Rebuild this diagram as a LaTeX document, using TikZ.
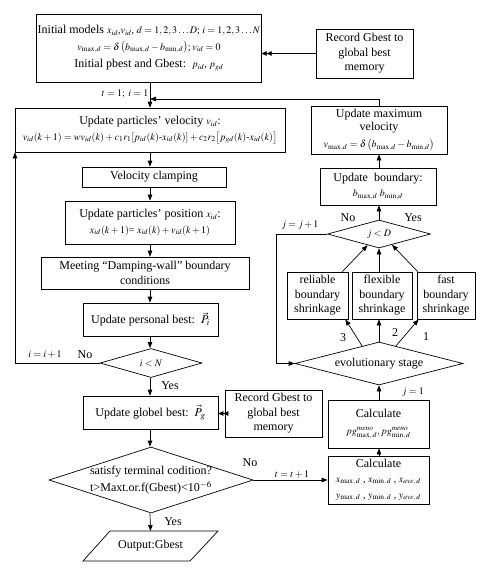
\documentclass[tikz,border=0pt]{standalone}
\usepackage{mathptmx}
\usepackage{fontspec}
\setmainfont{Liberation Serif}
\usetikzlibrary{arrows.meta,shapes.geometric,calc}
\newcommand\smf{\fontsize{10}{12}\selectfont}
\begin{document}
\begin{tikzpicture}[x=1pt,y=-1pt,line width=0.7pt,
  box/.style={draw,align=center,inner sep=1pt,font=\fontsize{12}{14.5}\selectfont},
  dia/.style={draw,diamond,inner sep=0pt},
  txt/.style={align=center,inner sep=0pt,font=\fontsize{12}{14.5}\selectfont},
  ar/.style={-{Triangle[length=6pt,width=4.5pt]}},
  dar/.style={-{Triangle[length=5pt,width=4.5pt]Triangle[length=5pt,width=4.5pt]}},
  lab/.style={font=\fontsize{12}{14}\selectfont,inner sep=0pt},
  slab/.style={font=\fontsize{10}{12}\selectfont,inner sep=0pt}]
\useasboundingbox (0,0) rectangle (491,571);
% left column
\node[box,minimum width=218,minimum height=68] (init) at (149,48)
 {Initial models {\smf $x_{id}$,$v_{id}$, $d=1,2,3\ldots D$;\ $i=1,2,3\ldots N$}\\[2pt]
  {\smf $v_{\max,d}=\delta\left(b_{\max,d}-b_{\min,d}\right)$;\,$v_{id}=0$}\\[3pt]
  Initial pbest and Gbest:\ \ {\smf $p_{id}$,\ $p_{gd}$}};
\node[box,minimum width=97,minimum height=49] (rec1) at (364.5,53.5) {Record Gbest to\\global best\\memory};
\node[box,minimum width=270,minimum height=44] (vel) at (150,130)
 {Update particles’ velocity {\smf $v_{id}$}:\\[1pt]
  {\smf $v_{id}(k+1)=wv_{id}(k)+c_1r_1\!\left[p_{id}(k)\mbox{-}x_{id}(k)\right]+c_2r_2\!\left[p_{gd}(k)\mbox{-}x_{id}(k)\right]$}};
\node[box,minimum width=144,minimum height=20] (clamp) at (154,177) {Velocity clamping};
\node[box,minimum width=170,minimum height=43] (pos) at (150,222.5)
 {Update particles’ position {\smf $x_{id}$}:\\[1pt]{\smf $x_{id}(k+1)$= $x_{id}(k)+v_{id}(k+1)$}};
\node[box,minimum width=208,minimum height=32] (damp) at (145,273) {Meeting ``Damping-wall'' boundary\\conditions};
\node[box,minimum width=135,minimum height=33] (pbest) at (150.5,319.5) {Update personal best:\ \ $\vec{P}_i$};
\node[dia,minimum width=102,minimum height=29] (iN) at (151,363) {};
\node[txt] (iNt) at (iN) {\smf $i<N$};
\node[box,minimum width=135,minimum height=33] (gbest) at (150.5,412.5) {Update globel best:\ \ $\vec{P}_g$};
\node[box,minimum width=97,minimum height=47] (rec2) at (273.5,413.5) {Record Gbest to\\global best\\memory};
\node[dia,minimum width=204,minimum height=66] (term) at (151,480) {};
\node[txt] (termt) at (term) {satisfy terminal codition?\\[3pt]t>Maxt.or.f(Gbest)<10$^{-6}$};
\node[txt] (out) at (150.5,546) {Output:Gbest};
\draw ($(out)+(-40.5,-15)$) -- ($(out)+(67.5,-15)$) -- ($(out)+(39.5,15)$) -- ($(out)+(-67.5,15)$) -- cycle;
\coordinate (outtop) at (150.5,531);
% right column
\node[box,minimum width=136,minimum height=48,font=\fontsize{12}{13.5}\selectfont] (maxv) at (379,130)
 {Update maximum\\velocity\\[3pt]{\smf $v_{\max,d}=\delta\left(b_{\max,d}-b_{\min,d}\right)$}};
\node[box,minimum width=116,minimum height=37] (bound) at (378,186.5) {Update\ \ boundary:\\[1pt]{\smf $b_{\max,d}\ b_{\min,d}$}};
\node[dia,minimum width=103,minimum height=28] (jD) at (379,234) {};
\node[txt] (jDt) at (jD) {\smf $j<D$};
\node[box,minimum width=61,minimum height=47] (rel) at (317.5,295.5) {reliable\\boundary\\shrinkage};
\node[box,minimum width=60,minimum height=47] (flex) at (382,295.5) {flexible\\boundary\\shrinkage};
\node[box,minimum width=58,minimum height=47] (fast) at (446,295.5) {fast\\boundary\\shrinkage};
\node[dia,minimum width=168,minimum height=43] (evo) at (379,363.5) {};
\node[txt] (evot) at (evo) {evolutionary stage};
\node[box,minimum width=101,minimum height=48] (pg) at (378.5,424)
 {Calculate\\[2pt]{\smf $pg^{meno}_{\max,\,d},pg^{meno}_{\min,\,d}$}};
\node[box,minimum width=101,minimum height=48,font=\fontsize{12}{13}\selectfont] (xy) at (378.5,480)
 {Calculate\\[2pt]{\smf $x_{\max,\,d}$ , $x_{\min,\,d}$ , $x_{ave,\,d}$}\\[3pt]{\smf $y_{\max,\,d}$ , $y_{\min,\,d}$ , $y_{ave,\,d}$}};
% connectors left
\coordinate (j1) at (150,99);
\draw[ar] (init.south -| j1) -- (j1 |- vel.north);
\node[slab] (l1) at (125,94) {$t=1;\ i=1$};
\draw[ar] (maxv.north) |- (j1);
\draw[dar] (rec1.west) -- (init.east |- rec1.west);
\draw[ar] (vel.south -| j1) -- (j1 |- clamp.north);
\draw[ar] (clamp.south -| j1) -- (j1 |- pos.north);
\draw[ar] (pos.south -| j1) -- (j1 |- damp.north);
\draw[ar] (damp.south -| j1) -- (j1 |- pbest.north);
\draw[ar] (pbest.south -| j1) -- (j1 |- iN.north);
\coordinate (lp2) at (15,363);
\draw[ar] (iN.west) -- (lp2) -- (lp2 |- vel.south);
\node[slab] (l2) at (45,355) {$i=i+1$};
\node[lab] (l3) at (85,355) {No};
\draw[ar] (iN.south -| j1) -- (j1 |- gbest.north);
\node[lab] (l4) at (170,386) {Yes};
\draw[dar] (rec2.west) -- (gbest.east |- rec2.west);
\draw[ar] (gbest.south -| j1) -- (j1 |- term.north);
\draw[ar] (term.south -| j1) -- (outtop);
\node[lab] (l5) at (173,522) {Yes};
\draw[ar] (term.east) -- (term.east -| xy.west);
\node[lab] (l6) at (250,463) {No};
\node[slab] (l7) at (292,475) {$t=t+1$};
% connectors right
\draw[ar] (xy.north -| evo) -- (evo |- pg.south);
\draw[ar] (pg.north -| evo) -- (evo.south);
\node[slab] (l8) at (413,392) {$j=1$};
\draw[ar] ($(evo.north)!0.2!(evo.west)$) -- ($(rel.south east)+(-3,0)$);
\draw[ar] (evo.north) -- (evo.north |- flex.south);
\draw[ar] ($(evo.north)!0.2!(evo.east)$) -- ($(fast.south west)+(2,0)$);
\node[lab] (n3) at (343,338) {3};
\node[lab] (n2) at (395,333) {2};
\node[lab] (n1) at (426,337) {1};
\draw[ar] ($(rel.north east)+(-6,0)$) -- ($(jD.south)!0.22!(jD.west)$);
\draw[ar] (jD.south |- flex.north) -- (jD.south);
\draw[ar] ($(fast.north west)+(1,0)$) -- ($(jD.south)!0.25!(jD.east)$);
\draw[ar] (jD.north) -- (jD.north |- bound.south);
\node[lab] (l9) at (348,218) {No};
\node[lab] (l10) at (413,218) {Yes};
\draw[ar] (bound.north -| maxv) -- (maxv.south);
\coordinate (lp3) at (276,234);
\draw[ar] (jD.west) -- (lp3) |- (evo.west);
\node[slab] (l11) at (300,225) {$j=j+1$};
\end{tikzpicture}
\end{document}
